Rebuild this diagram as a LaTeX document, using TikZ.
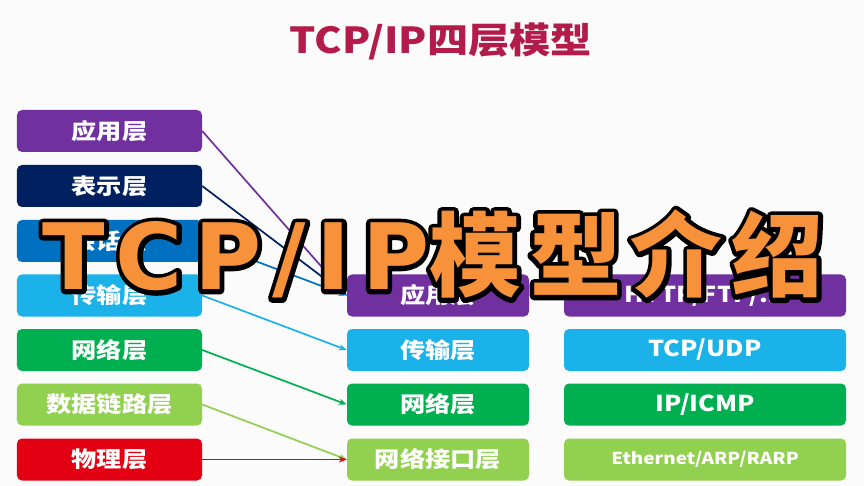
\documentclass[tikz,border=0pt]{standalone}
\usepackage{fontspec}
\usetikzlibrary{arrows.meta}

\newfontfamily\cjk{Noto Sans CJK SC}[FakeStretch=1.15]
\newfontfamily\cjkportada{Noto Sans CJK SC}[LetterSpace=10]
\newfontfamily\latinportada{DejaVu Sans}[LetterSpace=12]

\definecolor{fondo}{HTML}{FBFBFB}
\definecolor{titulo}{HTML}{B31B4B}
\definecolor{morado}{HTML}{7030A0}
\definecolor{marino}{HTML}{002060}
\definecolor{azul}{HTML}{0070C0}
\definecolor{celeste}{HTML}{1AB2E8}
\definecolor{verde}{HTML}{00B050}
\definecolor{verdeclaro}{HTML}{92D050}
\definecolor{rojo}{HTML}{E20012}
\definecolor{naranja}{HTML}{F7913A}

% texto con trazo grueso (modo de render 2)
\newcommand\trazo[1]{\special{pdf:literal direct 2 Tr 9 w 1 j 1 J}#1\special{pdf:literal direct 0 Tr 1 w}}
\newcommand\portadatexto{{\latinportada\bfseries TCP/IP}{\cjkportada\bfseries 模型介绍}}

\tikzset{
  capa/.style={rounded corners=5bp, minimum height=42bp, inner sep=0pt,
    text=white, font=\cjk\bfseries\fontsize{22}{26}\selectfont},
  osi/.style={capa, minimum width=185bp},
  tcp/.style={capa, minimum width=182bp},
  proto/.style={capa, minimum width=282bp},
  flecha/.style={->, >={Stealth[length=8bp,width=6bp]}, line width=1.7bp},
  portada/.style={anchor=base, font=\fontsize{92}{96}\selectfont},
}

\begin{document}
\begin{tikzpicture}[x=1bp,y=-1bp]
    % Fondo
    \fill[fondo] (0,0) rectangle (864,486);
    \useasboundingbox (0,0) rectangle (864,486);

    % Titulo
    \node[text=titulo, font=\cjk\bfseries\fontsize{36}{40}\selectfont] (titulo) at (441,41) {TCP/IP四层模型};

    % Modelo OSI
    \node[osi, fill=morado] (osiapp) at (109.5,131) {应用层};
    \node[osi, fill=marino] (osipres) at (109.5,186) {表示层};
    \node[osi, fill=azul] (osises) at (109.5,241) {会话层};
    \node[osi, fill=celeste] (ositrans) at (109.5,295.5) {传输层};
    \node[osi, fill=verde] (osired) at (109.5,350) {网络层};
    \node[osi, fill=verdeclaro] (osienlace) at (109.5,404.5) {数据链路层};
    \node[osi, fill=rojo] (osifis) at (109.5,459.5) {物理层};

    % Modelo TCP/IP
    \node[tcp, fill=morado] (tcpapp) at (438,295.5) {应用层};
    \node[tcp, fill=celeste] (tcptrans) at (438,350) {传输层};
    \node[tcp, fill=verde] (tcpred) at (438,404.5) {网络层};
    \node[tcp, fill=verdeclaro] (tcpint) at (438,459.5) {网络接口层};

    % Protocolos
    \node[proto, fill=morado] (protoapp) at (705,295.5) {HTTP/FTP/...};
    \node[proto, fill=celeste] (prototrans) at (705,350) {TCP/UDP};
    \node[proto, fill=verde] (protored) at (705,404.5) {IP/ICMP};
    \node[proto, fill=verdeclaro, font=\cjk\bfseries\fontsize{16.5}{20}\selectfont] (protoint) at (705,459.5) {Ethernet/ARP/RARP};

    % Flechas
    \draw[flecha, morado] (osiapp.east) -- (tcpapp.west);
    \draw[flecha, marino] (osipres.east) -- (tcpapp.west);
    \draw[flecha, azul] (osises.east) -- (tcpapp.west);
    \draw[flecha, celeste] (ositrans.east) -- (tcptrans.west);
    \draw[flecha, verde] (osired.east) -- (tcpred.west);
    \draw[flecha, verdeclaro] (osienlace.east) -- (tcpint.west);
    \draw[flecha, rojo] (osifis.east) -- (tcpint.west);

    % Portada
    \node[portada, text=black] (contorno) at (433,290) {\trazo{\portadatexto}};
    \node[portada, text=naranja] (portada) at (433,290) {\portadatexto};
\end{tikzpicture}
\end{document}
